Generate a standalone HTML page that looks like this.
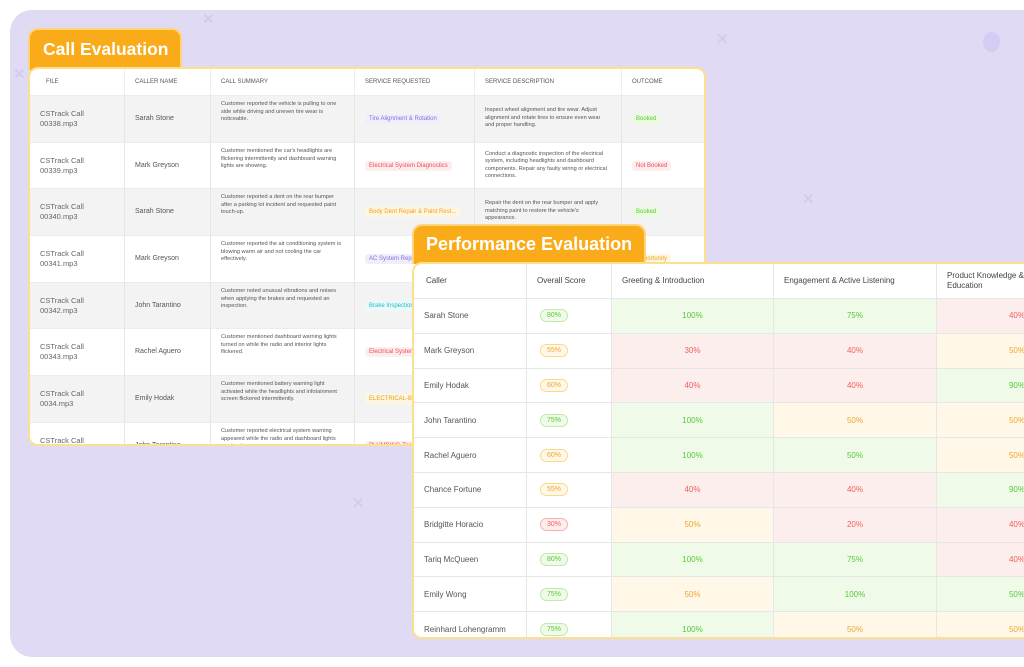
<!DOCTYPE html>
<html><head><meta charset="utf-8">
<style>
*{box-sizing:border-box;margin:0;padding:0}
body{width:1024px;height:667px;background:#fff;position:relative;overflow:hidden;font-family:"Liberation Sans",sans-serif}
.abs{position:absolute}
#bg{left:10px;top:10px;width:1040px;height:647px;background:#e1daf4;border-radius:22px}
.x{position:absolute;color:#d4cbf1;font-size:15px;font-weight:bold}
.tab{position:absolute;background:#f9ab1a;color:#fff;font-weight:bold;border-radius:10px 10px 0 0;border:2px solid #fdd57a;border-bottom:none}
.card{position:absolute;background:#fff;border:2px solid #fde08a;border-radius:10px;overflow:hidden}
.c{position:absolute;overflow:hidden;color:#555;display:flex;align-items:center}
.pill{display:inline-block;border-radius:3px;padding:2px 4px;font-size:6px;white-space:nowrap}
.sp{display:inline-block;border-radius:8px;padding:2px 6px;font-size:7px;border:1px solid}
</style></head><body>
<div id="bg" class="abs"></div>
<div class="x" style="left:202px;top:10px">✕</div>
<div class="x" style="left:13px;top:65px">✕</div>
<div class="x" style="left:716px;top:30px">✕</div>
<div class="x" style="left:802px;top:190px">✕</div>
<div class="x" style="left:352px;top:494px">✕</div>
<div class="abs" style="left:983px;top:32px;width:17px;height:20px;border-radius:50%;background:#d6cbf2"></div>

<div class="tab" style="left:28px;top:28px;width:154px;height:42px;font-size:17.5px;padding:9px 0 0 13px">Call Evaluation</div>
<div class="card" id="call" style="left:28px;top:67px;width:678px;height:379px"></div>

<div class="tab" style="left:412px;top:224px;width:234px;height:40px;font-size:18px;padding:8px 0 0 12px">Performance Evaluation</div>
<div class="card" id="perf" style="left:412px;top:262px;width:640px;height:377px;border-radius:10px 0 0 10px"></div>

<script>
const callHeaders=["FILE","CALLER NAME","CALL SUMMARY","SERVICE REQUESTED","SERVICE DESCRIPTION","OUTCOME"];
const callFiles=["CSTrack Call 00338.mp3","CSTrack Call 00339.mp3","CSTrack Call 00340.mp3","CSTrack Call 00341.mp3","CSTrack Call 00342.mp3","CSTrack Call 00343.mp3","CSTrack Call 0034.mp3","CSTrack Call 00344.mp3"];
const callNames=["Sarah Stone","Mark Greyson","Sarah Stone","Mark Greyson","John Tarantino","Rachel Aguero","Emily Hodak","John Tarantino"];
const callSummaries=["Customer reported the vehicle is pulling to one side while driving and uneven tire wear is noticeable.","Customer mentioned the car's headlights are flickering intermittently and dashboard warning lights are showing.","Customer reported a dent on the rear bumper after a parking lot incident and requested paint touch-up.","Customer reported the air conditioning system is blowing warm air and not cooling the car effectively.","Customer noted unusual vibrations and noises when applying the brakes and requested an inspection.","Customer mentioned dashboard warning lights turned on while the radio and interior lights flickered.","Customer mentioned battery warning light activated while the headlights and infotainment screen flickered intermittently.","Customer reported electrical system warning appeared while the radio and dashboard lights went out."];
const callServices=["Tire Alignment & Rotation","Electrical System Diagnostics","Body Dent Repair & Paint Rest...","AC System Repair","Brake Inspection","Electrical System Check","ELECTRICAL-BATTERY","PLUMBING-Test"];
const serviceColors=[["#f1eefc","#8a6ce0"],["#fdeeee","#ee4a55"],["#fff6e2","#f0a020"],["#f1eefc","#8a6ce0"],["#eafafa","#2ab8c8"],["#fdeeee","#ee4a55"],["#fff6e2","#e0a020"],["#fdeeee","#ee4a55"]];
const callDescs=["Inspect wheel alignment and tire wear. Adjust alignment and rotate tires to ensure even wear and proper handling.","Conduct a diagnostic inspection of the electrical system, including headlights and dashboard components. Repair any faulty wiring or electrical connections.","Repair the dent on the rear bumper and apply matching paint to restore the vehicle's appearance.","","","","",""];
const callOutcomes=["Booked","Not Booked","Booked","Opportunity","","","",""];
const colX=[0,95,181,325,445,592,678];
const rowTop=[26,73,119,166,213,259,306,353];
const rowH=47;

const call=document.getElementById('call');
function cell(parent,x,y,w,h,html,style){
  const d=document.createElement('div');d.className='c';
  d.style.cssText=`left:${x}px;top:${y}px;width:${w}px;height:${h}px;`+(style||'');
  d.innerHTML=html;parent.appendChild(d);return d;
}
callHeaders.forEach((h,i)=>{
  const d=cell(call,colX[i],0,colX[i+1]-colX[i],26,h,`font-size:6px;color:#555;padding-left:${i==0?16:10}px;border-right:${i<5?'1px solid #eee':'none'}`);
  
  
});
callFiles.forEach((f,r)=>{
  const y=rowTop[r];
  const bg=r%2==0?'#f3f3f3':'#fff';
  const row=document.createElement('div');row.className='abs';
  row.style.cssText=`left:0;top:${y}px;width:678px;height:${rowH}px;background:${bg};border-top:1px solid #ececec`;
  
  
  call.appendChild(row);
  const br='border-right:1px solid #e6e6e6;';
  cell(call,colX[0],y,95,rowH,f,br+'font-size:7.5px;padding-left:10px;padding-right:40px;line-height:10px;color:#666');
  cell(call,colX[1],y,86,rowH,callNames[r],br+'font-size:7px;padding-left:10px');
  cell(call,colX[2],y,144,rowH,callSummaries[r],br+'font-size:5.6px;padding:0 10px;line-height:7.5px;align-items:flex-start;padding-top:6px');
  const sc=serviceColors[r];
  cell(call,colX[3],y,120,rowH,`<span class="pill" style="background:${sc[0]};color:${sc[1]}">${callServices[r]}</span>`,br+'padding-left:10px');
  cell(call,colX[4],y,147,rowH,callDescs[r],br+'font-size:5.6px;padding:0 10px;line-height:7.5px');
  const o=callOutcomes[r];
  const oc=o=="Booked"?['#eafbe0','#5ac83a']:o=="Not Booked"?['#fdeeee','#ee4a55']:['#fff6e2','#f0a020'];
  if(o)cell(call,colX[5],y,86,rowH,`<span class="pill" style="background:${oc[0]};color:${oc[1]}">${o}</span>`,'padding-left:10px');
});

/* Performance table */
const perfHeaders=["Caller","Overall Score","Greeting & Introduction","Engagement & Active Listening","Product Knowledge & Education"];
const callers=["Sarah Stone","Mark Greyson","Emily Hodak","John Tarantino","Rachel Aguero","Chance Fortune","Bridgitte Horacio","Tariq McQueen","Emily Wong","Reinhard Lohengramm"];
const overall=[80,55,60,75,60,55,30,80,75,75];
const greeting=[100,30,40,100,100,40,50,100,50,100];
const engagement=[75,40,40,50,50,40,20,75,100,50];
const product=[40,50,90,50,50,90,40,40,50,50];
const engagementOverride=[null,null,null,null,'g',null,null,null,null,null];
const productOverride=[null,null,null,null,null,null,null,null,'g',null];
const pX=[0,113,198,360,523,640];
const pTop=35,pH=34.8;
function tone(v){return v>=75?'g':v>=50?'y':'r';}
const tones={g:['#effbe8','#5ac83a','#bfeaa8'],y:['#fff8e8','#f0a531','#fbd98a'],r:['#fdeeee','#f0605a','#f6b0ae']};
const perf=document.getElementById('perf');
perfHeaders.forEach((h,i)=>{
  const d=cell(perf,pX[i],0,pX[i+1]-pX[i],pTop,h,`font-size:8px;color:#444;padding-left:${i==0?12:10}px;line-height:10px;border-right:1px solid #e6e6e6;border-bottom:1px solid #e6e6e6`);
  
  
});
callers.forEach((n,r)=>{
  const y=pTop+r*pH;
  const b='border-right:1px solid #e6e6e6;border-bottom:1px solid #e6e6e6;';
  const nc=cell(perf,pX[0],y,113,pH,n,b+'font-size:8px;padding-left:10px');
  
  
  const t=tones[tone(overall[r])];
  const oc=cell(perf,pX[1],y,85,pH,`<span class="sp" style="background:${t[0]};color:${t[1]};border-color:${t[2]}">${overall[r]}%</span>`,b+'padding-left:13px');
  
  
  [[greeting,null],[engagement,engagementOverride],[product,productOverride]].forEach(([arr,ov],k)=>{
    const tt=tones[(ov&&ov[r])||tone(arr[r])];
    const d=cell(perf,pX[k+2],y,pX[k+3]-pX[k+2],pH,arr[r]+'%',b+`justify-content:center;font-size:8px;background:${tt[0]};color:${tt[1]}`);
    if(k==2){d.style.justifyContent='flex-end';d.style.paddingRight=(640-612)+'px';}
    
    
  });
});
</script>
</body></html>
